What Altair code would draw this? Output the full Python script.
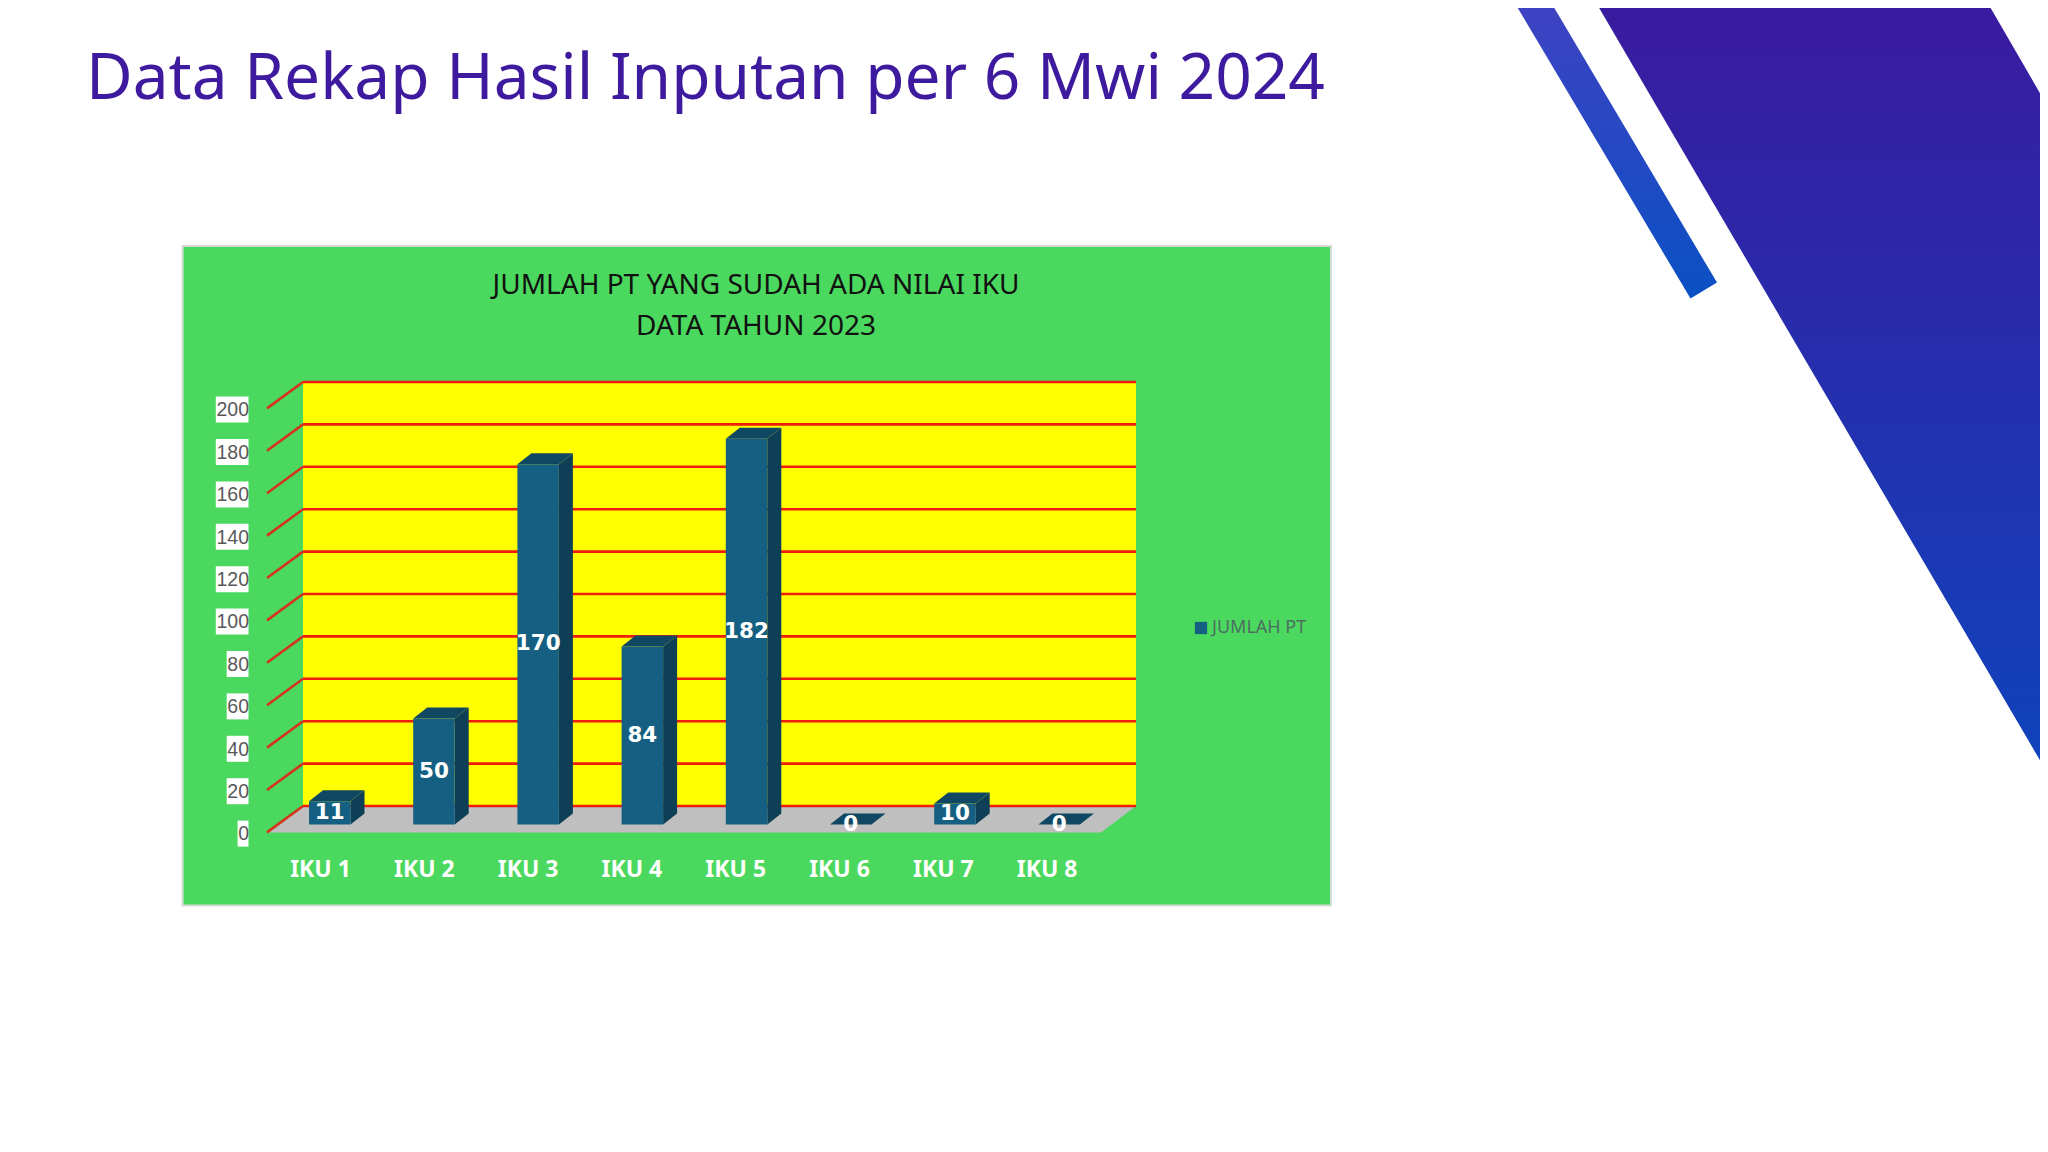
import json
import altair as alt
import pandas as pd

# ---- data ----
categories = ["IKU 1", "IKU 2", "IKU 3", "IKU 4", "IKU 5", "IKU 6", "IKU 7", "IKU 8"]
jumlah_pt = [11, 50, 170, 84, 182, 0, 10, 0]
tick_values = [0, 20, 40, 60, 80, 100, 120, 140, 160, 180, 200]
series_name = "JUMLAH PT"
slide_title = "Data Rekap Hasil Inputan per 6 Mwi 2024"
chart_title = ["JUMLAH PT YANG SUDAH ADA NILAI IKU", "DATA TAHUN 2023"]

# ---- layout ----
W, H = 2032, 1136
X_U, Y_U = 104.2, 2.12          # px per category, px per unit
X0, Y0 = 301.0, 816.6           # canvas px of first bar's left edge, value 0
x_dom = [-X0 / X_U, (W - X0) / X_U]
y_dom = [(Y0 - H) / Y_U, Y0 / Y_U]
BW = 41.5 / X_U                 # bar width
DX, DY = 14 / X_U, 11 / Y_U     # bar depth
WALL_V = 18.6 / Y_U             # wall floor above the bar base
FRONT_V = -7.8 / Y_U            # front edge below the bar base
WALL_L, WALL_R = -6 / X_U, 827 / X_U
FRONT_L, FRONT_R = -42 / X_U, 792 / X_U
WALL_TOP = 200 + WALL_V
LABEL_STEP = 0.9962             # category labels are a little tighter than the bars

FRONT = "#156082"
SIDE = "#0D3F56"
TOP = "#104863"
RED = "#F01C0C"
DIAG = "#D6341A"
GREEN = "#4BD85E"
INK = "#3D1A9E"

x_axis = alt.Axis(
    values=[i * LABEL_STEP for i in range(len(categories))],
    labelExpr=json.dumps(categories) + "[round(datum.value)]",
    orient="bottom",
    offset=-(H - 861.3),
    labelOffset=11,
    labelPadding=0,
    labelBaseline="middle",
    labelAlign="center",
    labelColor="#FFFFFF",
    labelFont="Noto Sans",
    labelFontWeight="bold",
    labelFontSize=23,
    labelOverlap=False,
    labelBound=False,
    labelFlush=False,
    domain=False,
    ticks=False,
    grid=False,
    title=None,
    zindex=1,
)
y_axis = alt.Axis(
    values=tick_values,
    orient="left",
    offset=-240.5,
    labelOffset=9.3,
    labelPadding=0,
    labelColor="#595959",
    labelFont="Liberation Sans",
    labelFontSize=19.5,
    labelOverlap=False,
    labelBound=False,
    labelFlush=False,
    domain=False,
    ticks=False,
    grid=False,
    title=None,
    zindex=1,
)


def X(f):
    return alt.X(f, type="quantitative", scale=alt.Scale(domain=x_dom, nice=False, zero=False), axis=x_axis)


def Y(f):
    return alt.Y(f, type="quantitative", scale=alt.Scale(domain=y_dom, nice=False, zero=False), axis=y_axis)


bars = pd.DataFrame({"i": range(len(categories)), "v": jumlah_pt, "cat": categories})
bars["x1"] = bars.i + BW
bars["mid"] = bars.v / 2
bars["cx"] = bars.i + BW / 2
bars["base"] = 0
bars["series"] = series_name

side_rows, top_rows = [], []
for i, v in zip(bars.i, bars.v):
    if v > 0:
        side_rows += [
            {"b": i, "x": i + BW, "lo": 0, "hi": v},
            {"b": i, "x": i + BW + DX, "lo": DY, "hi": v + DY},
        ]
    top_rows += [
        {"b": i, "y": v, "xa": i, "xb": i + BW},
        {"b": i, "y": v + DY, "xa": i + DX, "xb": i + BW + DX},
    ]
side = pd.DataFrame(side_rows)
top = pd.DataFrame(top_rows)

ticks = pd.DataFrame({"t": tick_values})
ticks["wall"] = ticks.t + WALL_V
ticks["l"] = WALL_L
ticks["r"] = WALL_R
diag_rows = []
for t in tick_values:
    diag_rows += [
        {"t": t, "x": FRONT_L, "y": t + FRONT_V},
        {"t": t, "x": WALL_L, "y": t + WALL_V},
    ]
diag = pd.DataFrame(diag_rows)

LBL_R = (240.5 - X0) / X_U
BG_SHIFT = -1.2 / Y_U
lab_bg = pd.DataFrame(
    [
        {
            "x": LBL_R - (len(str(t)) * 10.9) / X_U,
            "x2": LBL_R,
            "y": t + FRONT_V + BG_SHIFT - 13 / Y_U,
            "y2": t + FRONT_V + BG_SHIFT + 13 / Y_U,
        }
        for t in tick_values
    ]
)

floor = pd.DataFrame(
    [
        {"y": FRONT_V, "a": FRONT_L, "b": FRONT_R},
        {"y": WALL_V, "a": WALL_L, "b": WALL_R},
    ]
)

# ---- slide decoration ----
big_shape = pd.DataFrame(
    {
        "y": [-8, 99, 766],
        "x": [1586.5, 1649, 2040],
        "x2": [1978, 2040, 2040],
    }
)
thin_shape = pd.DataFrame(
    {
        "y": [-8, 274.6, 290.5],
        "x": [1505, 1673, 1682.5],
        "x2": [1541.6, 1709, 1682.5],
    }
)


def grad(a, b):
    return alt.LinearGradient(
        gradient="linear",
        stops=[alt.GradientStop(color=a, offset=0), alt.GradientStop(color=b, offset=1)],
        x1=0, x2=0, y1=0, y2=1,
    )


big = alt.Chart(big_shape).mark_area(orient="horizontal", color=grad("#3A1A9F", "#0F44BC")).encode(
    x=alt.X("x:Q", scale=None), x2="x2:Q", y=alt.Y("y:Q", scale=None)
)
thin = alt.Chart(thin_shape).mark_area(orient="horizontal", color=grad("#3F42C2", "#0A50C4")).encode(
    x=alt.X("x:Q", scale=None), x2="x2:Q", y=alt.Y("y:Q", scale=None)
)

panel = alt.Chart(pd.DataFrame({"a": [0]})).mark_rect(
    fill=GREEN, stroke="#D4DAD4", strokeWidth=2
).encode(x=alt.value(174.6), x2=alt.value(1323), y=alt.value(238), y2=alt.value(897.6))

wall = alt.Chart(pd.DataFrame({"l": [WALL_L], "r": [WALL_R], "b": [WALL_V], "t": [WALL_TOP]})).mark_rect(
    fill="#FFFF00"
).encode(x=X("l"), x2="r:Q", y=Y("b"), y2="t:Q")

floor_l = alt.Chart(floor).mark_area(orient="horizontal", color="#BFBFBF").encode(
    x=X("a"), x2="b:Q", y=Y("y")
)

grid = alt.Chart(ticks).mark_rule(color=RED, strokeWidth=2.6).encode(
    x=X("l"), x2="r:Q", y=Y("wall")
)

diagonals = alt.Chart(diag).mark_line(color=DIAG, strokeWidth=2.6).encode(
    x=X("x"), y=Y("y"), detail="t:N"
)

bg = alt.Chart(lab_bg).mark_rect(fill="#FFFFFF").encode(
    x=X("x"), x2="x2:Q", y=Y("y"), y2="y2:Q"
)

side_l = alt.Chart(side).mark_area(orient="vertical", color=SIDE).encode(
    x=X("x"), y=Y("lo"), y2="hi:Q", detail="b:N"
)
top_l = alt.Chart(top).mark_area(orient="horizontal", color=TOP).encode(
    x=X("xa"), x2="xb:Q", y=Y("y"), detail="b:N"
)
front_l = alt.Chart(bars[bars.v > 0]).mark_bar().encode(
    x=X("i"),
    x2="x1:Q",
    y=Y("base"),
    y2="v:Q",
    color=alt.Color(
        "series:N",
        scale=alt.Scale(domain=[series_name], range=[FRONT]),
        legend=alt.Legend(
            orient="none",
            legendX=1184,
            legendY=611,
            title=None,
            symbolType="square",
            symbolSize=150,
            symbolStrokeWidth=0,
            labelFont="Noto Sans",
            labelFontSize=18,
            labelColor="#4C6E62",
            labelOffset=2,
        ),
    ),
)
value_text = alt.Chart(bars).mark_text(
    color="#FFFFFF", font="DejaVu Sans", fontWeight="bold", fontSize=21.5, align="center", baseline="middle"
).encode(x=X("cx"), y=Y("mid"), text="v:Q")

head = alt.Chart(pd.DataFrame({"s": chart_title, "yy": [277.5, 318.5]})).mark_text(
    font="Noto Sans", fontSize=28, color="#111111", align="center", baseline="middle"
).encode(x=alt.value(748), y=alt.Y("yy:Q", scale=None), text="s:N")

slide_head = alt.Chart(pd.DataFrame({"s": [slide_title]})).mark_text(
    font="Noto Sans", fontSize=64, color=INK, align="left", baseline="alphabetic"
).encode(x=alt.value(78), y=alt.value(91), text="s:N")

chart = (
    alt.layer(
        thin, big, panel, wall, floor_l, grid, diagonals, bg, side_l, top_l, front_l, value_text, head, slide_head
    )
    .properties(
        width=W,
        height=H,
        padding=0,
        autosize=alt.AutoSizeParams(type="none"),
        background="#FFFFFF",
    )
    .configure_view(stroke=None)
)

chart.save("out.html", embed_options={"renderer": "svg", "actions": False})
